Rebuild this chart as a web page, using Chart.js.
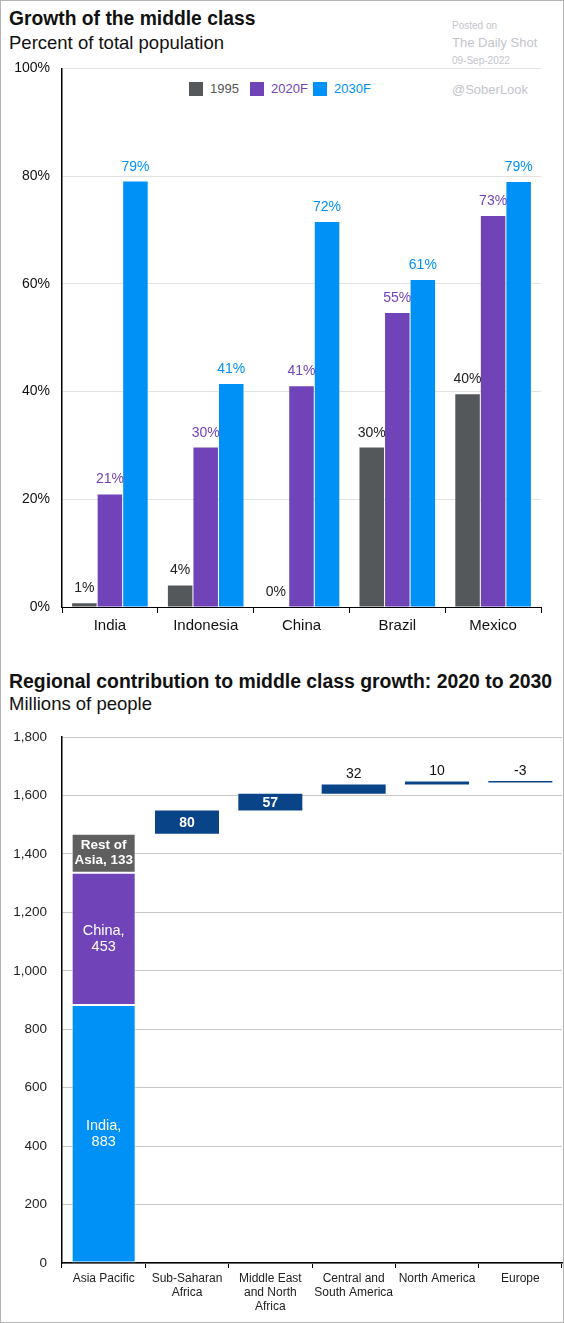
<!DOCTYPE html>
<html>
<head>
<meta charset="utf-8">
<script src="https://cdn.jsdelivr.net/npm/chart.js@4"></script>
<style>
  html, body { margin: 0; padding: 0; background: #fff; }
  body { width: 564px; height: 1323px; position: relative; overflow: hidden;
         font-family: 'Liberation Sans', Arial, sans-serif; }
  .frame { position: absolute; left: 0; top: 0; width: 562px; height: 1321px; border: 1px solid #b4b4b4; }
  .t { position: absolute; white-space: nowrap; line-height: 1; }
  .title { font-weight: bold; font-size: 19.3px; color: #111; }
  .sub { font-size: 18.5px; color: #111; }
  .wm { color: #c4c4cc; }
  .lg { position: absolute; top: 82px; font-size: 13px; line-height: 14px; white-space: nowrap; }
  .lg span.sq { display: inline-block; width: 14px; height: 14px; vertical-align: top; margin-right: 7px; }
  canvas { position: absolute; }
</style>
</head>
<body>
<div class="frame"></div>

<div class="t title" style="left:9px; top:9px;">Growth of the middle class</div>
<div class="t sub" style="left:9px; top:34px;">Percent of total population</div>

<div class="t wm" style="left:452px; top:21px; font-size:10px;">Posted on</div>
<div class="t wm" style="left:452px; top:36px; font-size:13px;">The Daily Shot</div>
<div class="t wm" style="left:452px; top:56px; font-size:10px;">09-Sep-2022</div>
<div class="t wm" style="left:452px; top:83px; font-size:13px;">@SoberLook</div>

<div id="legend"></div>

<div class="t title" style="left:9px; top:672px; font-size:19.4px;">Regional contribution to middle class growth: 2020 to 2030</div>
<div class="t sub" style="left:9px; top:695px;">Millions of people</div>

<canvas id="growth" style="left:0; top:48px;" width="564" height="592"></canvas>
<canvas id="regional" style="left:0; top:714px;" width="564" height="609"></canvas>

<script>
/* Chart 1: middle class share of population */
const countries = ['India', 'Indonesia', 'China', 'Brazil', 'Mexico'];
const seriesNames = ['1995', '2020F', '2030F'];
const share1995  = [0.7, 4.0, 0.0, 29.6, 39.5];
const share2020F = [20.9, 29.6, 41.0, 54.6, 72.6];
const share2030F = [79.0, 41.4, 71.5, 60.7, 78.9];
const pctTicks = [0, 20, 40, 60, 80, 100];

/* Chart 2: waterfall of middle class growth 2020-2030, millions */
const regions = ['Asia Pacific', ['Sub-Saharan', 'Africa'], ['Middle East', 'and North', 'Africa'],
                 ['Central and', 'South America'], 'North America', 'Europe'];
const asiaNames  = ['India', 'China', 'Rest of Asia'];
const asiaValues = [883, 453, 133];
const regionDeltas = [80, 57, 32, 10, -3];   // regions after Asia Pacific
const millionTicks = [0, 200, 400, 600, 800, 1000, 1200, 1400, 1600, 1800];

const GRAY = '#55585b', PURPLE = '#7044b8', BLUE = '#0091f7', NAVY = '#0a4488', REST = '#5f5f5f';
const FONT = "'Liberation Sans', Arial, sans-serif";

Chart.defaults.font.family = FONT;
Chart.defaults.animation = false;

/* legend (html) */
const legendColors = [GRAY, PURPLE, BLUE];
const legendText   = ['#555', PURPLE, BLUE];
const legendLeft   = [189, 250, 313];
document.getElementById('legend').innerHTML = seriesNames.map((n, i) =>
  `<div class="lg" style="left:${legendLeft[i]}px"><span class="sq" style="background:${legendColors[i]}"></span><span style="color:${legendText[i]}">${n}</span></div>`
).join('');

/* labels on top of bars */
const topLabels = {
  id: 'topLabels',
  afterDatasetsDraw(chart) {
    const ctx = chart.ctx;
    ctx.save();
    ctx.font = '14px ' + FONT;
    ctx.textAlign = 'center';
    ctx.textBaseline = 'alphabetic';
    chart.data.datasets.forEach((ds, di) => {
      chart.getDatasetMeta(di).data.forEach((bar, i) => {
        ctx.fillStyle = ds.labelColor;
        ctx.fillText(Math.round(ds.data[i]) + '%', bar.x, bar.y - 11);
      });
    });
    ctx.restore();
  }
};

new Chart(document.getElementById('growth'), {
  type: 'bar',
  data: {
    labels: countries,
    datasets: [
      { label: seriesNames[0], data: share1995,  backgroundColor: GRAY,   labelColor: '#222' },
      { label: seriesNames[1], data: share2020F, backgroundColor: PURPLE, labelColor: PURPLE },
      { label: seriesNames[2], data: share2030F, backgroundColor: BLUE,   labelColor: BLUE }
    ]
  },
  options: {
    responsive: false,
    layout: { padding: { top: 11, right: 23, left: 0, bottom: 0 } },
    datasets: { bar: { categoryPercentage: 0.8, barPercentage: 0.96 } },
    plugins: { legend: { display: false }, tooltip: { enabled: false } },
    scales: {
      x: {
        grid: { display: true, offset: true, drawOnChartArea: false, tickLength: 6, color: '#000' },
        border: { color: '#000', width: 1 },
        ticks: { color: '#111', font: { size: 15 }, padding: 4 },
        afterFit: s => { s.height = 33; }
      },
      y: {
        min: 0, max: 100,
        afterBuildTicks: s => { s.ticks = pctTicks.map(v => ({ value: v })); },
        grid: { color: '#e2e2e2', drawTicks: false },
        border: { color: '#000', width: 1.5 },
        ticks: { color: '#111', font: { size: 14 }, padding: 12, callback: v => v + '%' },
        afterFit: s => { s.width = 62; }
      }
    }
  },
  plugins: [topLabels]
});

/* waterfall: floating bars from cumulative sums */
const asiaRanges = [];
let run = 0;
asiaValues.forEach(v => { asiaRanges.push([run, run + v]); run += v; });
const regionRanges = [null];
regionDeltas.forEach(v => { regionRanges.push([run, run + v]); run += v; });

function wrapLabel(name, value) {
  const words = (name + ', ' + value).split(' ');
  if (words.length <= 2) return words;
  return [words.slice(0, 2).join(' '), words.slice(2).join(' ')];
}

const waterLabels = {
  id: 'waterLabels',
  afterDatasetsDraw(chart) {
    const ctx = chart.ctx;
    ctx.save();
    ctx.textAlign = 'center';
    ctx.textBaseline = 'middle';
    chart.data.datasets.forEach((ds, di) => {
      chart.getDatasetMeta(di).data.forEach((bar, i) => {
        const r = ds.data[i];
        if (!r) return;
        const top = Math.min(bar.y, bar.base), h = Math.abs(bar.base - bar.y);
        const cy = top + h / 2;
        if (ds.asia != null) {
          const lines = wrapLabel(asiaNames[ds.asia], asiaValues[ds.asia]);
          ctx.fillStyle = '#fff';
          ctx.font = (ds.asia === 2 ? 'bold 13.5px ' : '14.5px ') + FONT;
          const lh = ds.asia === 2 ? 15 : 16;
          lines.forEach((ln, k) => ctx.fillText(ln, bar.x, cy + (k - (lines.length - 1) / 2) * lh));
        } else {
          const val = regionDeltas[i - 1];
          if (h > 14) {
            ctx.fillStyle = '#fff';
            ctx.font = 'bold 14px ' + FONT;
            ctx.fillText(String(val), bar.x, cy + 1);
          } else {
            ctx.fillStyle = '#111';
            ctx.font = '14px ' + FONT;
            ctx.fillText(String(val), bar.x, top - 10);
          }
        }
      });
    });
    ctx.restore();
  }
};

new Chart(document.getElementById('regional'), {
  type: 'bar',
  data: {
    labels: regions,
    datasets: [
      { data: [asiaRanges[0]], backgroundColor: BLUE,   borderColor: 'rgba(255,255,255,0.7)', borderWidth: 1, asia: 0 },
      { data: [asiaRanges[1]], backgroundColor: PURPLE, borderColor: 'rgba(255,255,255,0.7)', borderWidth: 1, asia: 1 },
      { data: [asiaRanges[2]], backgroundColor: REST,   borderColor: 'rgba(255,255,255,0.7)', borderWidth: 1, asia: 2 },
      { data: regionRanges, backgroundColor: NAVY, borderColor: NAVY, borderWidth: 0, minBarLength: 1.5 }
    ]
  },
  options: {
    responsive: false,
    layout: { padding: { top: 16, right: 2, left: 0, bottom: 0 } },
    datasets: { bar: { categoryPercentage: 0.8, barPercentage: 0.96, borderSkipped: false } },
    plugins: { legend: { display: false }, tooltip: { enabled: false } },
    scales: {
      x: {
        stacked: true,
        grid: { display: true, offset: true, drawOnChartArea: false, tickLength: 5, color: '#000' },
        border: { color: '#000', width: 1.5 },
        ticks: { color: '#222', font: { size: 12, lineHeight: 1.17 }, padding: 4, maxRotation: 0, autoSkip: false },
        afterFit: s => { s.height = 60; }
      },
      y: {
        min: 0, max: 1800,
        afterBuildTicks: s => { s.ticks = millionTicks.map(v => ({ value: v })); },
        grid: { color: '#c8c8c8', drawTicks: false },
        border: { color: '#000', width: 1.5 },
        ticks: { color: '#222', font: { size: 13.5 }, padding: 15,
                 callback: v => v.toLocaleString('en-US') },
        afterFit: s => { s.width = 62; }
      }
    }
  },
  plugins: [waterLabels]
});
</script>
</body>
</html>
